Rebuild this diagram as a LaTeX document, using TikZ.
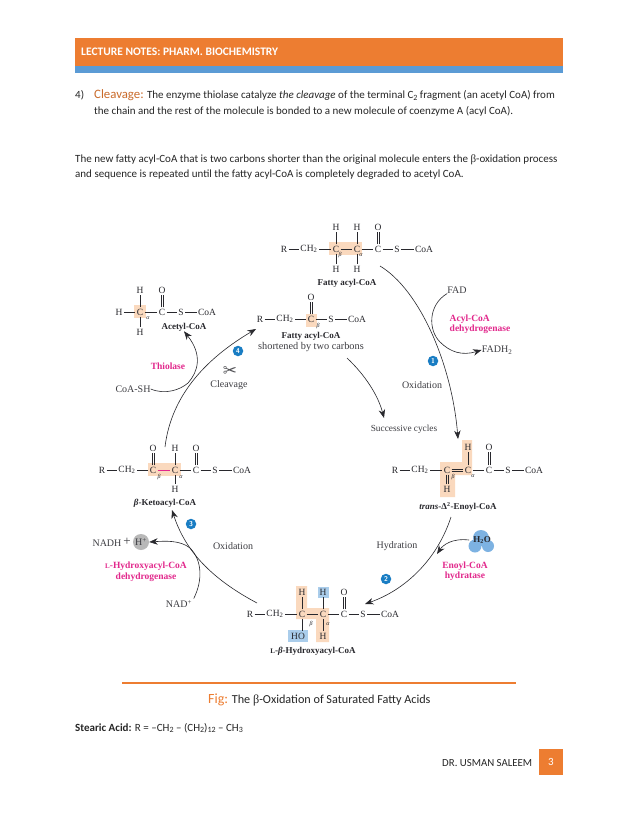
\documentclass[tikz,border=0pt]{standalone}
\usepackage{fontspec}
\setmainfont{Carlito}
\newfontfamily\chemfont{Liberation Serif}
\newfontfamily\symfont{DejaVu Sans}
\usetikzlibrary{arrows.meta}
\definecolor{HeadOrange}{RGB}{237,125,49}
\definecolor{HeadBlue}{RGB}{91,155,213}
\definecolor{HlOrange}{RGB}{250,217,190}
\definecolor{HlBlue}{RGB}{170,205,235}
\definecolor{EnzPink}{RGB}{226,40,140}
\definecolor{StepBlue}{RGB}{25,125,195}
\definecolor{ChemGray}{RGB}{40,40,45}
\definecolor{WaterBlue}{RGB}{125,178,226}
\newcommand{\vdouble}[2]{%
	\draw[bond, transform canvas={xshift=-0.9pt}] (#1) -- (#2);
	\draw[bond, transform canvas={xshift=0.9pt}] (#1) -- (#2);}
\newcommand{\hdouble}[2]{%
	\draw[bond, transform canvas={yshift=-0.9pt}] (#1) -- (#2);
	\draw[bond, transform canvas={yshift=0.9pt}] (#1) -- (#2);}
\tikzset{
	atom/.style={font=\chemfont\fontsize{9.5}{11}\selectfont, text=ChemGray, inner sep=1.3pt},
	bond/.style={ChemGray, line width=0.55pt},
	greek/.style={font=\chemfont\itshape\fontsize{6}{7}\selectfont, text=ChemGray, inner sep=0pt},
	molname/.style={font=\chemfont\bfseries\fontsize{9}{11}\selectfont, text=ChemGray, inner sep=0pt},
	note/.style={font=\chemfont\fontsize{10}{11}\selectfont, text=ChemGray!90, inner sep=0pt},
	enzyme/.style={font=\chemfont\bfseries\fontsize{9.5}{10.5}\selectfont, text=EnzPink, inner sep=0pt},
	stepmark/.style={circle, fill=StepBlue, text=white, minimum size=10.5pt, inner sep=0pt,
		font=\sffamily\bfseries\fontsize{7}{8}\selectfont},
	cycle/.style={-{Stealth[length=8.5pt,width=6.5pt]}, ChemGray, line width=0.6pt},
	body/.style={anchor=base west, inner sep=0pt, text=black!85, font=\fontsize{11}{13}\selectfont}
}

\begin{document}
\begin{tikzpicture}[x=1pt, y=-1pt]
	\path[use as bounding box, fill=white] (0,0) rectangle (638,826);

	% header and text
	\fill[HeadOrange] (75,38) rectangle (563,66);
	\fill[HeadBlue] (75,66) rectangle (563,73);
	\node[body, text=white, font=\bfseries\fontsize{11.5}{13}\selectfont] (head) at (81,56) {LECTURE NOTES: PHARM. BIOCHEMISTRY};
	\node[body] (num) at (75,99) {4)};
	\node[body] (line1) at (94,99) {{\color{HeadOrange!85!black}\fontsize{12.8}{15}\selectfont Cleavage:} The enzyme thiolase catalyze \textit{the cleavage} of the terminal C{\fontsize{8}{9}\selectfont\raisebox{-1.5pt}{2}} fragment (an acetyl CoA) from};
	\node[body] (line2) at (94,115) {the chain and the rest of the molecule is bonded to a new molecule of coenzyme A (acyl CoA).};
	\node[body] (line3) at (75,163) {The new fatty acyl-CoA that is two carbons shorter than the original molecule enters the {\chemfont β}-oxidation process};
	\node[body] (line4) at (75,178) {and sequence is repeated until the fatty acyl-CoA is completely degraded to acetyl CoA.};

	% highlights
	\fill[HlOrange] (329,242) rectangle (362,255);
	\fill[HlOrange] (306,314) rectangle (317,327);
	\fill[HlOrange] (134,305) rectangle (146,318);
	\fill[HlOrange] (148,463) rectangle (181,476);
	\fill[HlOrange] (462,440) -- (472,440) -- (472,475) -- (455,475) -- (455,497) -- (440,497) -- (440,462) -- (462,462) -- cycle;
	\fill[HlOrange] (296,586) -- (307,586) -- (307,608) -- (329,608) -- (329,642) -- (316,642) -- (316,619) -- (296,619) -- cycle;
	\fill[HlBlue] (318,587) rectangle (329,598);
	\fill[HlBlue] (288,630) rectangle (308,642);

	% fatty acyl-CoA
	\foreach \nm/\xx/\yy/\txt in {R/284/249/R, M/309/249/CH\textsubscript{2}, A/336/249/C, B/357/249/C, C/378/249/C, S/397/249/S, K/424/249/CoA,
		Au/336/227/H, Bu/357/227/H, Cu/378/227/O, Ad/336/269/H, Bd/357/269/H}
		\node[atom] (f\nm) at (\xx,\yy) {\txt};
	\foreach \a/\b in {fR/fM, fM/fA, fA/fB, fB/fC, fC/fS, fS/fK, fA/fAu, fB/fBu, fA/fAd, fB/fBd}
		\draw[bond] (\a) -- (\b);
	\vdouble{fC}{fCu}
	\node[greek] (fbeta) at (340,255) {β};
	\node[greek] (falpha) at (361,255) {α};
	\node[molname] (fname) at (347,283) {Fatty acyl-CoA};

	% shortened fatty acyl-CoA
	\foreach \nm/\xx/\yy/\txt in {R/260/319/R, M/285/319/CH\textsubscript{2}, C/311/319/C, S/331/319/S, K/357/319/CoA, Cu/311/297/O}
		\node[atom] (s\nm) at (\xx,\yy) {\txt};
	\foreach \a/\b in {sR/sM, sM/sC, sC/sS, sS/sK}
		\draw[bond] (\a) -- (\b);
	\vdouble{sC}{sCu}
	\node[greek] (sbeta) at (318,326) {β};
	\node[molname] (sname) at (311,336.5) {Fatty acyl-CoA};
	\node[note, font=\chemfont\fontsize{10.3}{11}\selectfont] (snote) at (311,347.5) {shortened by two carbons};

	% acetyl-CoA
	\foreach \nm/\xx/\yy/\txt in {L/119/312/H, A/140/312/C, C/162/312/C, S/181/312/S, K/207/312/CoA, Au/140/290/H, Cu/162/290/O, Ad/140/332/H}
		\node[atom] (a\nm) at (\xx,\yy) {\txt};
	\foreach \a/\b in {aL/aA, aA/aC, aC/aS, aS/aK, aA/aAu, aA/aAd}
		\draw[bond] (\a) -- (\b);
	\vdouble{aC}{aCu}
	\node[greek] (aalpha) at (148,318) {α};
	\node[molname] (aname) at (184,327) {Acetyl-CoA};

	% beta-ketoacyl-CoA
	\foreach \nm/\xx/\yy/\txt in {R/102/470/R, M/127/470/CH\textsubscript{2}, A/153/470/C, B/175/470/C, C/196/470/C, S/215/470/S, K/242/470/CoA,
		Au/153/448/O, Bu/175/448/H, Cu/196/448/O, Bd/175/489/H}
		\node[atom] (k\nm) at (\xx,\yy) {\txt};
	\foreach \a/\b in {kR/kM, kM/kA, kB/kC, kC/kS, kS/kK, kB/kBu, kB/kBd}
		\draw[bond] (\a) -- (\b);
	\draw[EnzPink, line width=1pt] (kA) -- (kB);
	\vdouble{kA}{kAu}
	\vdouble{kC}{kCu}
	\node[greek] (kbeta) at (159,477) {β};
	\node[greek] (kalpha) at (181,477) {α};
	\node[molname] (kname) at (165,503) {\textit{β}-Ketoacyl-CoA};

	% trans-enoyl-CoA
	\foreach \nm/\xx/\yy/\txt in {R/395/470/R, M/420/470/CH\textsubscript{2}, A/447/470/C, B/468/470/C, C/489/470/C, S/508/470/S, K/534/470/CoA,
		Bu/468/447/H, Cu/489/447/O, Ad/447/489/H}
		\node[atom] (t\nm) at (\xx,\yy) {\txt};
	\foreach \a/\b in {tR/tM, tM/tA, tB/tC, tC/tS, tS/tK, tB/tBu}
		\draw[bond] (\a) -- (\b);
	\hdouble{tA}{tB}
	\vdouble{tA}{tAd}
	\vdouble{tC}{tCu}
	\node[greek] (tbeta) at (453,477) {β};
	\node[greek] (talpha) at (473,476) {α};
	\node[molname] (tname) at (458,507) {\textit{trans}-Δ\textsuperscript{2}-Enoyl-CoA};

	% hydroxyacyl-CoA
	\foreach \nm/\xx/\yy/\txt in {R/250/614/R, M/275/614/CH\textsubscript{2}, A/302/614/C, B/323/614/C, C/344/614/C, S/363/614/S, K/390/614/CoA,
		Au/302/592/H, Bu/323/592/H, Cu/344/592/O, Ad/298/636/HO, Bd/323/636/H}
		\node[atom] (h\nm) at (\xx,\yy) {\txt};
	\foreach \a/\b in {hR/hM, hM/hA, hA/hB, hB/hC, hC/hS, hS/hK, hA/hAu, hB/hBu, hB/hBd}
		\draw[bond] (\a) -- (\b);
	\draw[bond] (hA) -- (hAd.north -| hA);
	\vdouble{hC}{hCu}
	\node[greek] (hbeta) at (311,624) {β};
	\node[greek] (halpha) at (328,624) {α};
	\node[molname] (hname) at (313,651) {{\fontsize{7}{8}\selectfont L}-\textit{β}-Hydroxyacyl-CoA};

	% cofactors and enzymes
	\node[note] (fad) at (457,290) {FAD};
	\node[note] (fadh) at (497,350) {FADH\textsubscript{2}};
	\node[enzyme, align=left] (acyl) at (480,324.5) {Acyl-CoA\\dehydrogenase};
	\fill[WaterBlue] (481,538) circle (8);
	\fill[WaterBlue] (475,546) circle (6.5);
	\fill[WaterBlue] (488,546) circle (6);
	\node[atom, font=\chemfont\bfseries\fontsize{9}{11}\selectfont, inner sep=4pt] (water) at (482,540) {H\textsubscript{2}O};
	\node[enzyme, align=center] (enoyl) at (465,571) {Enoyl-CoA\\hydratase};
	\node[note] (nadh) at (107,543) {NADH};
	\node[note, font=\chemfont\fontsize{13}{14}\selectfont] (plus) at (127,542) {+};
	\node[note, circle, fill=black!28, minimum size=16pt, inner sep=0pt] (proton) at (141,542) {H\textsuperscript{+}};
	\node[enzyme, align=center] (lhyd) at (146,571.5) {{\fontsize{7}{8}\selectfont L}-Hydroxyacyl-CoA\\dehydrogenase};
	\node[note, inner sep=1.5pt] (nad) at (179,604) {NAD\textsuperscript{+}};
	\node[enzyme] (thio) at (168,366) {Thiolase};
	\node[note] (coash) at (133,389) {CoA-SH};

	% step marks and labels
	\node[stepmark] (n1) at (433,361) {1};
	\node[stepmark] (n2) at (386,579) {2};
	\node[stepmark] (n3) at (191,524) {3};
	\node[stepmark] (n4) at (238,351) {4};
	\node[note] (oxa) at (422,385) {Oxidation};
	\node[note, font=\chemfont\fontsize{9.3}{11}\selectfont] (succ) at (404,429) {Successive cycles};
	\node[note] (hydr) at (397,546) {Hydration};
	\node[note] (oxb) at (233,546) {Oxidation};
	\node[note] (cleav) at (229,385) {Cleavage};
	\node[text=ChemGray!80, inner sep=0pt, font=\symfont\fontsize{17}{18}\selectfont] (scis) at (230,371) {✂};

	% cycle
	\coordinate (C1a) at (380,266);
	\coordinate (C1b) at (458,439);
	\coordinate (C2a) at (451,517);
	\coordinate (C2b) at (365,604);
	\coordinate (C3a) at (257,603);
	\coordinate (C3b) at (172,510);
	\coordinate (C4a) at (165,447);
	\coordinate (C4b) at (256,329);
	\coordinate (C5a) at (347,358);
	\coordinate (C5b) at (384,418);
	\draw[cycle] (C1a) .. controls (420,290) and (452,365) .. (C1b);
	\draw[cycle] (C2a) .. controls (437,560) and (405,590) .. (C2b);
	\draw[cycle] (C3a) .. controls (210,578) and (185,550) .. (C3b);
	\draw[cycle] (C4a) .. controls (170,405) and (195,365) .. (C4b);
	\draw[cycle] (C5a) .. controls (365,375) and (378,395) .. (C5b);

	% side arrows
	\draw[cycle] (fad.south west) .. controls (428,305) and (428,330) .. (440,342) .. controls (450,352) and (462,356) .. (fadh.west);
	\draw[cycle] (water.west) .. controls (452,538) and (443,545) .. (437,554);
	\draw[cycle] (nad.north east) .. controls (203,580) and (202,560) .. (190,548) .. controls (180,540) and (165,541) .. (proton.east);
	\draw[cycle] (coash.east) .. controls (165,395) and (180,390) .. (188,383) .. controls (198,372) and (203,355) .. (aname.south);

	% footer
	\draw[HeadOrange, line width=2.6pt] (122,683) -- (516,683);
	\node[body, font=\fontsize{12.2}{14}\selectfont] (fig) at (208,703.5) {{\color{HeadOrange}\fontsize{14}{15}\selectfont Fig:} The {\chemfont β}-Oxidation of Saturated Fatty Acids};
	\node[body] (stearic) at (75,731) {\textbf{Stearic Acid:} R = –CH{\fontsize{8}{9}\selectfont\raisebox{-1.5pt}{2}} – (CH{\fontsize{8}{9}\selectfont\raisebox{-1.5pt}{2}}){\fontsize{8}{9}\selectfont\raisebox{-1.5pt}{12}} – CH{\fontsize{8}{9}\selectfont\raisebox{-1.5pt}{3}}};
	\node[body, font=\fontsize{10.8}{13}\selectfont] (author) at (442,766) {DR. USMAN SALEEM};
	\node[fill=HeadOrange, text=white, minimum width=24pt, minimum height=26pt, inner sep=0pt, font=\fontsize{11}{13}\selectfont] (page) at (551,762) {3};
\end{tikzpicture}
\end{document}
